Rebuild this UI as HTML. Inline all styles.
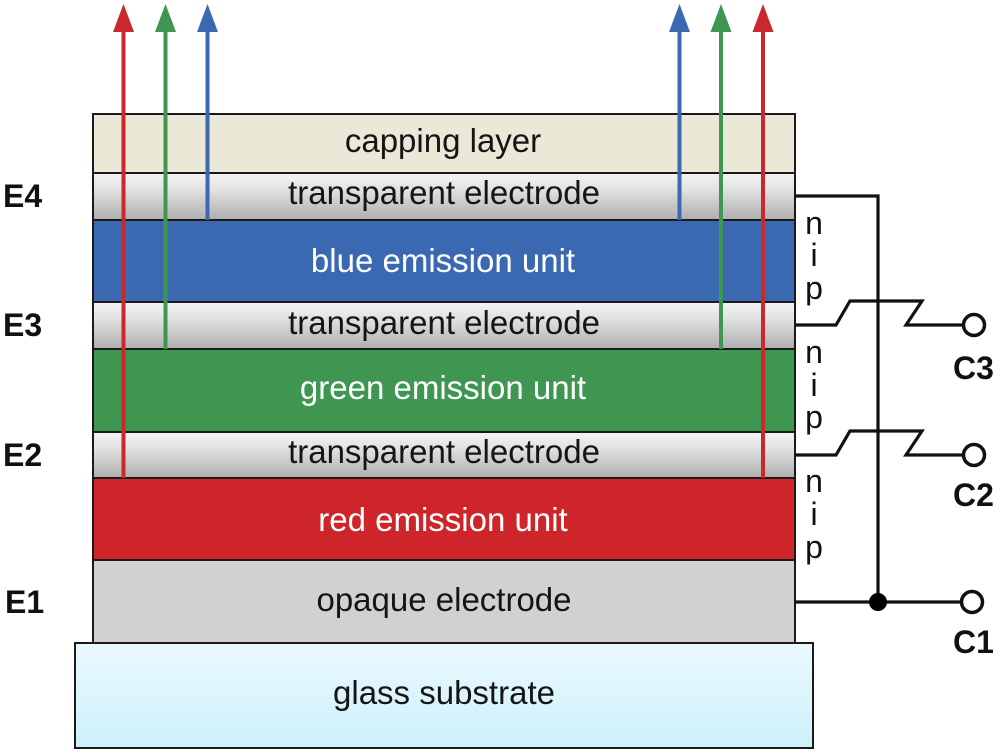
<!DOCTYPE html>
<html><head><meta charset="utf-8"><style>
html,body{margin:0;padding:0;background:#fff;width:1000px;height:754px;overflow:hidden}
svg{display:block}
text{font-family:"Liberation Sans",sans-serif}
</style></head><body>
<svg width="1000" height="754" viewBox="0 0 1000 754" xmlns="http://www.w3.org/2000/svg">
<defs>
<linearGradient id="g" x1="0" y1="0" x2="0" y2="1"><stop offset="0" stop-color="#f4f4f4"/><stop offset="0.35" stop-color="#e2e2e2"/><stop offset="1" stop-color="#aeaeae"/></linearGradient>
<linearGradient id="s" x1="0" y1="0" x2="0" y2="1"><stop offset="0" stop-color="#ebf9fe"/><stop offset="1" stop-color="#cdf0fb"/></linearGradient>
</defs>
<g stroke="#1a1a1a" stroke-width="2">
<rect x="93" y="114" width="702" height="59" fill="#ebe8d8"/>
<rect x="93" y="173" width="702" height="47" fill="url(#g)"/>
<rect x="93" y="220" width="702" height="82" fill="#3a69b1"/>
<rect x="93" y="302" width="702" height="47" fill="url(#g)"/>
<rect x="93" y="349" width="702" height="83" fill="#3e9651"/>
<rect x="93" y="432" width="702" height="46" fill="url(#g)"/>
<rect x="93" y="478" width="702" height="82" fill="#cd2529"/>
<rect x="93" y="560" width="702" height="83" fill="#d1d1d1"/>
<rect x="75" y="643" width="738" height="105" fill="url(#s)"/>
</g>
<g stroke-width="4" fill="none">
<path d="M123.500 478V28" stroke="#c9282d"/>
<path d="M165.500 349V28" stroke="#3e9651"/>
<path d="M207.500 220V28" stroke="#3a69b1"/>
<path d="M679.500 220V28" stroke="#3a69b1"/>
<path d="M721 349V28" stroke="#3e9651"/>
<path d="M763 478V28" stroke="#c9282d"/>
</g>
<path d="M123.500 4L134 32H113Z" fill="#c9282d"/>
<path d="M165.500 4L176 32H155Z" fill="#3e9651"/>
<path d="M207.500 4L218 32H197Z" fill="#3a69b1"/>
<path d="M679.500 4L690 32H669Z" fill="#3a69b1"/>
<path d="M721 4L731.500 32H710.500Z" fill="#3e9651"/>
<path d="M763 4L773.500 32H752.500Z" fill="#c9282d"/>
<g font-size="33" text-anchor="middle" fill="#151515">
<text x="443" y="152">capping layer</text>
<text x="444" y="204">transparent electrode</text>
<text x="443" y="272" fill="#fff">blue emission unit</text>
<text x="444" y="334">transparent electrode</text>
<text x="443" y="399" fill="#fff">green emission unit</text>
<text x="444" y="463">transparent electrode</text>
<text x="443" y="531" fill="#fff">red emission unit</text>
<text x="444" y="611">opaque electrode</text>
<text x="444" y="704">glass substrate</text>
</g>
<g font-size="32" text-anchor="middle" fill="#111">
<text x="814" y="234">n</text><text x="814" y="266">i</text><text x="814" y="299">p</text>
<text x="814" y="363">n</text><text x="814" y="396">i</text><text x="814" y="428">p</text>
<text x="814" y="492">n</text><text x="814" y="525">i</text><text x="814" y="558">p</text>
</g>
<g stroke="#111" stroke-width="3.200" fill="none">
<path d="M795 196H878V602"/>
<path d="M795 325H836L850 301H922L906 325H964"/>
<path d="M795 455H836L850 431H922L906 455H964"/>
<path d="M795 602H962"/>
<circle cx="974" cy="325" r="10.500" fill="#fff" stroke-width="3.500"/>
<circle cx="974" cy="455" r="10.500" fill="#fff" stroke-width="3.500"/>
<circle cx="972" cy="602" r="10.500" fill="#fff" stroke-width="3.500"/>
</g>
<circle cx="878" cy="602" r="9" fill="#000"/>
<g font-size="32" font-weight="bold" fill="#111">
<text x="3" y="207">E4</text>
<text x="3" y="336">E3</text>
<text x="3" y="466">E2</text>
<text x="5" y="613">E1</text>
<text x="953" y="379">C3</text>
<text x="953" y="506">C2</text>
<text x="953" y="653">C1</text>
</g>
</svg>
</body></html>
